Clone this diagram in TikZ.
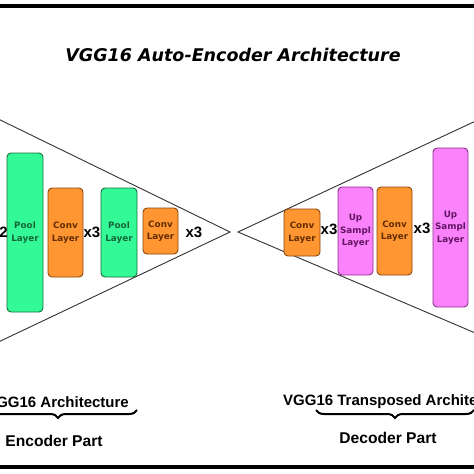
\documentclass[tikz,border=0pt]{standalone}
\usepackage{fontspec}
\setmainfont{Liberation Sans}
\newfontfamily\verd{DejaVu Sans}
\usetikzlibrary{decorations.pathreplacing}
\definecolor{gfill}{RGB}{51,250,150}
\definecolor{gdraw}{RGB}{20,110,60}
\definecolor{gtext}{RGB}{20,100,60}
\definecolor{ofill}{RGB}{255,150,50}
\definecolor{odraw}{RGB}{140,70,10}
\definecolor{otext}{RGB}{100,45,0}
\definecolor{pfill}{RGB}{250,130,250}
\definecolor{pdraw}{RGB}{140,50,140}
\definecolor{ptext}{RGB}{100,20,100}
\definecolor{tri}{RGB}{50,50,50}
\tikzset{
  layer/.style={rectangle, rounded corners=4pt, line width=0.9pt, inner sep=0pt, align=center,
    font=\verd\bfseries\fontsize{8.8}{12.5}\selectfont},
  poolbox/.style={layer, fill=gfill, draw=gdraw, text=gtext},
  convbox/.style={layer, fill=ofill, draw=odraw, text=otext},
  upbox/.style={layer, fill=pfill, draw=pdraw, text=ptext},
  rep/.style={font=\bfseries\fontsize{15}{15}\selectfont, inner sep=0pt},
  lbl/.style={font=\bfseries\fontsize{15}{15}\selectfont, inner sep=0pt},
  part/.style={font=\bfseries\fontsize{15.6}{15.6}\selectfont, inner sep=0pt},
  brc/.style={decorate, decoration={brace, amplitude=8pt, mirror}, line width=2pt},
  triline/.style={draw=tri, line width=0.9pt},
  rule/.style={line width=4pt, black}
}
\begin{document}
\begin{tikzpicture}[x=1pt, y=-1pt]
\useasboundingbox[fill=white] (0,0) rectangle (474,474);
% rules
\coordinate (tl) at (0,6); \coordinate (tr) at (474,6);
\coordinate (bl) at (0,467); \coordinate (br) at (474,467);
\draw[rule] (tl) -- (tr);
\draw[rule] (bl) -- (br);
% title
\node[font=\verd\bfseries\itshape\fontsize{17.5}{17.5}\selectfont, inner sep=0pt] (title) at (233,55) {VGG16 Auto-Encoder Architecture};
% triangles
\coordinate (la) at (-10,115); \coordinate (lapex) at (230,232); \coordinate (lb) at (-10,346);
\draw[triline] (la) -- (lapex) -- (lb);
\coordinate (rapex) at (238,232); \coordinate (ra) at (480,119); \coordinate (rb) at (480,335);
\draw[triline] (ra) -- (rapex) -- (rb);
% encoder boxes
\node[poolbox, minimum width=36pt, minimum height=159pt] (p1) at (25,232.5) {Pool\\Layer};
\node[convbox, minimum width=35pt, minimum height=89pt] (c1) at (65.5,232.5) {Conv\\Layer};
\node[rep] (x3a) at (92,232) {x3};
\node[poolbox, minimum width=36pt, minimum height=89pt] (p2) at (119,232.5) {Pool\\Layer};
\node[convbox, minimum width=35pt, minimum height=46pt] (c2) at (160.5,231) {Conv\\Layer};
\node[rep] (x3b) at (194,232) {x3};
\node[rep, anchor=east] (x2) at (8,232) {x2};
% decoder boxes
\node[convbox, minimum width=36pt, minimum height=47pt] (c3) at (302,232.5) {Conv\\Layer};
\node[rep] (x3c) at (329,229) {x3};
\node[upbox, minimum width=35pt, minimum height=88pt] (u1) at (355.5,231) {Up\\Sampl\\Layer};
\node[convbox, minimum width=35pt, minimum height=88pt] (c4) at (394.5,231) {Conv\\Layer};
\node[rep] (x3d) at (422,228) {x3};
\node[upbox, minimum width=35pt, minimum height=159pt] (u2) at (450.5,227.5) {Up\\Sampl\\Layer};
% bottom labels
\node[lbl, anchor=east] (encarch) at (129,402) {VGG16 Architecture};
\node[lbl, anchor=west] (decarch) at (283,402) {VGG16 Transposed Architecture};
\coordinate (eb1) at (-21,410); \coordinate (eb2) at (137,410);
\draw[brc] (eb1) -- (eb2);
\coordinate (db1) at (316,410); \coordinate (db2) at (474,410);
\draw[brc] (db1) -- (db2);
\node[part] (enc) at (54,441) {Encoder Part};
\node[part] (dec) at (388,438) {Decoder Part};
\end{tikzpicture}
\end{document}
